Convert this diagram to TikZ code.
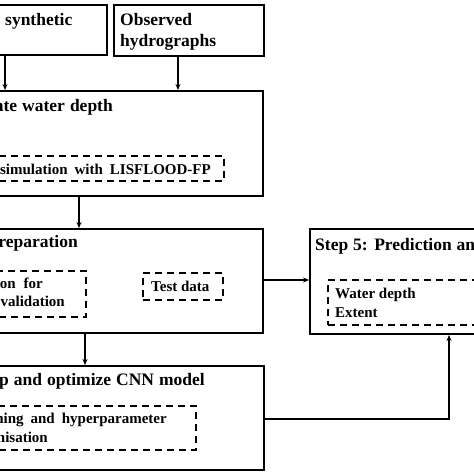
\documentclass[tikz,border=0pt]{standalone}
\usepackage{fontspec}
\setmainfont{Liberation Serif}
\usetikzlibrary{arrows.meta}
\begin{document}
\begin{tikzpicture}[x=1pt,y=-1pt,
 box/.style={draw, line width=2pt, rectangle, inner sep=0pt, anchor=north west},
 dbox/.style={draw, line width=2pt, dash pattern=on 7pt off 5pt, rectangle, inner sep=0pt, anchor=north west},
 ttl/.style={font=\fontsize{17.5}{20}\selectfont\bfseries, inner sep=0pt},
 txt/.style={font=\fontsize{15}{18}\selectfont\bfseries, inner sep=0pt},
 arr/.style={line width=1.7pt, -{Stealth[length=6pt,width=5pt]}}]
\useasboundingbox (0,0) rectangle (474,474);
\clip (0,0) rectangle (474,474);
\fill[white] (0,0) rectangle (474,474);
% boxes
\node[box, minimum width=256pt, minimum height=50pt] (box1) at (-150,4) {};
\node[box, minimum width=150pt, minimum height=51pt] (obs) at (113,4) {};
\node[box, minimum width=462pt, minimum height=105pt] (box2) at (-200,90) {};
\node[dbox, minimum width=273pt, minimum height=25pt] (dash2) at (-50,155) {};
\node[box, minimum width=462pt, minimum height=104pt] (box3) at (-200,228) {};
\node[dbox, minimum width=135pt, minimum height=46pt] (dash3) at (-50,270) {};
\node[dbox, minimum width=80pt, minimum height=27pt] (test) at (142,272) {};
\node[box, minimum width=291pt, minimum height=105pt] (box5) at (309,228) {};
\node[dbox, minimum width=233pt, minimum height=45pt] (dash5) at (327,279) {};
\node[box, minimum width=463pt, minimum height=104pt] (box4) at (-200,365) {};
\node[dbox, minimum width=245pt, minimum height=44pt] (dash4) at (-50,405) {};
% texts
\node[ttl, anchor=base west] (t1) at (5,25) {synthetic};
\node[ttl, anchor=base west] (t2) at (120,25) {Observed};
\node[ttl, anchor=base west] (t3) at (120,46) {hydrographs};
\node[ttl, anchor=base east] (t4) at (113,111) {\spaceskip=5pt ate water depth};
\node[txt, anchor=base east] (t5) at (211,174) {\spaceskip=7pt simulation with LISFLOOD-FP};
\node[ttl, anchor=base east] (t6) at (78,247) {reparation};
\node[txt, anchor=base east] (t7) at (43,288) {\spaceskip=8pt on for};
\node[txt, anchor=base east] (t8) at (65,306) {validation};
\node[txt, anchor=base west] (t9) at (151,291) {Test data};
\node[ttl, anchor=base west] (t10) at (315,250) {\spaceskip=5pt Step 5: Prediction an};
\node[txt, anchor=base west] (t11) at (335,298) {Water depth};
\node[txt, anchor=base west] (t12) at (335,317) {Extent};
\node[ttl, anchor=base east] (t13) at (205,385) {\spaceskip=5pt p and optimize CNN model};
\node[txt, anchor=base east] (t14) at (167,423) {\spaceskip=7pt ning and hyperparameter};
\node[txt, anchor=base east] (t15) at (48,442) {nisation};
% connectors
\coordinate (ca) at (5,0);
\coordinate (cb) at (178,0);
\coordinate (cc) at (79,0);
\coordinate (cd) at (85,0);
\coordinate (ce) at (0,280);
\coordinate (cf) at (449,419);
\draw[arr] (ca |- box1.south) -- (ca |- box2.north);
\draw[arr] (cb |- obs.south) -- (cb |- box2.north);
\draw[arr] (cc |- box2.south) -- (cc |- box3.north);
\draw[arr] (cd |- box3.south) -- (cd |- box4.north);
\draw[arr] (ce -| box3.east) -- (ce -| box5.west);
\draw[arr] (cf -| box4.east) -- (cf) -- (cf |- box5.south);
\end{tikzpicture}
\end{document}
